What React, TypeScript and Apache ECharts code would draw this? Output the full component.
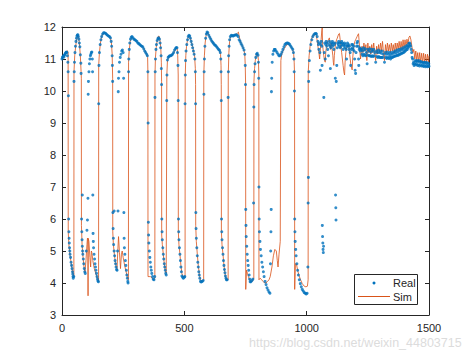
import React, { useEffect, useRef } from "react";
import * as echarts from "echarts";

const seriesNames = ["Real", "Sim"];
const watermark = "https://blog.csdn.net/weixin_44803715";
const xRange = [0, 1500];
const yRange = [3, 12];

const realEarly: [number, number][] = [
  [0,11.0],[2,11.05],[4,11.08],[6,11.1],[8,11.06],[10,11.12],[12,11.15],[14,11.18],[16,11.2],[18,11.22],[20,11.2],[22,11.1],[24,10.9],[25,10.6],[26,9.85],[27,6.0],[28,5.6],[29,5.4],[30,5.25],[31,5.1],[32,5.0],[33,4.9],[35,4.8],[37,4.65],[39,4.55],[41,4.45],[43,4.35],[44,4.28],[45,4.2],[46,4.15],[48,4.2],
  [49,10.3],[50,10.6],[51,10.9],[53,11.2],[55,11.4],[57,11.55],[59,11.65],[61,11.72],[63,11.75],[65,11.76],[67,11.7],[69,11.62],[71,11.5],[73,11.38],[75,11.13],[77,10.87],[78,10.55],[80,6.0],[81,5.6],[82,5.35],[83,5.15],[84,5.0],[85,4.9],[87,4.75],[89,4.6],[91,4.45],[93,4.35],[95,4.3],
  [99,5.0],[102,5.65],[104,5.97],[83,6.75],[106,6.65],[107,9.9],[108,10.3],[110,10.6],[112,10.85],[114,11.0],[116,11.1],[118,11.15],[120,11.2],[122,11.22],[124,11.0],[125,10.6],[126,6.75],[127,5.55],[128,5.3],[129,5.1],[131,4.9],[133,4.75],[135,4.6],[137,4.5],[139,4.4],[141,4.3],[143,4.2],[145,4.12],[147,4.06],[149,4.04],
  [150,9.6],[151,10.8],[153,11.2],[156,11.45],[159,11.6],[162,11.7],[166,11.78],[170,11.82],[174,11.82],[178,11.8],[182,11.77],[186,11.74],[190,11.72],[194,11.7],[198,11.66],[201,11.55],[203,11.4],[205,11.1],[206,10.8],[207,10.3],[208,6.2],[209,5.7],[210,5.4],[211,5.2],[213,5.0],[215,4.85],[217,4.7],[219,4.6],[221,4.5],[223,4.42],[225,4.4],
  [213,6.25],[227,5.0],[229,6.25],[230,9.98],[231,10.4],[233,10.6],[235,10.9],[238,11.05],[241,11.15],[244,11.25],[247,11.28],[250,11.2],[252,10.4],[253,6.2],[254,5.4],[255,5.1],[257,4.9],[259,4.7],[261,4.55],[263,4.4],[265,4.25],[267,4.15],[269,4.05],[270,4.0],
  [272,10.6],[273,11.0],[275,11.3],[277,11.5],[280,11.62],[283,11.68],[286,11.7],[290,11.66],[294,11.62],[298,11.6],[302,11.58],[306,11.55],[310,11.5],[314,11.48],[318,11.45],[322,11.42],[326,11.4],[330,11.38],[334,11.32],[338,11.25],[342,11.2],[346,11.15],[349,11.1],[351,10.6],[352,9.0],[353,5.9],[354,5.5],[355,5.25],[357,5.0],[359,4.8],[361,4.65],[363,4.5],[365,4.4],[367,4.3],[370,4.2],[373,4.12],[376,4.1],[379,4.2],
  [380,9.8],[381,10.6],[382,11.0],[384,11.3],[386,11.45],[389,11.58],[392,11.64],[395,11.66],[398,11.62],[401,11.5],[403,11.35],[405,11.1],[406,10.7],[407,10.2],[408,6.0],[409,5.6],[410,5.35],[412,5.1],[414,4.9],[416,4.75],[418,4.6],[420,4.5],[422,4.4],[424,4.3],[426,4.25],
  [428,9.7],[429,10.5],[431,10.97],[434,11.05],[437,11.08],[440,11.1],[444,11.1],[448,11.12],[452,11.15],[456,11.2],[460,11.28],[464,11.33],[467,11.36],[470,11.35],[472,11.2],[474,10.8],[475,9.7],[476,6.0],[477,5.6],[478,5.35],[480,5.1],[482,4.9],[484,4.7],[486,4.5],[488,4.35],[490,4.22],[493,4.18],[496,4.15],[500,4.18],
];

const realMiddle: [number, number][] = [
  [502,4.2],[503,9.6],[504,10.5],[505,10.95],[507,11.25],[510,11.45],[513,11.6],[516,11.7],[519,11.74],[522,11.72],[525,11.65],[528,11.55],[531,11.45],[534,11.35],[537,11.25],[540,11.15],[543,11.0],[545,10.6],[546,9.6],[547,6.2],[548,5.7],[549,5.4],[551,5.1],[553,4.85],[555,4.65],[557,4.5],[559,4.35],[561,4.25],[563,4.15],[566,4.05],[569,4.03],[573,4.05],[577,4.08],
  [580,9.9],[581,10.6],[582,11.0],[584,11.4],[587,11.65],[590,11.78],[593,11.84],[596,11.82],[600,11.74],[604,11.68],[608,11.62],[612,11.56],[616,11.52],[620,11.48],[624,11.44],[628,11.42],[632,11.38],[636,11.34],[640,11.3],[644,11.27],[647,11.2],[649,11.0],[650,10.6],[651,9.7],[652,6.0],[653,5.6],[654,5.35],[656,5.1],[658,4.9],[660,4.7],[662,4.55],[664,4.42],[666,4.32],[668,4.22],[670,4.15],[672,4.1],[675,4.1],
  [679,9.8],[680,10.6],[681,11.1],[683,11.4],[685,11.6],[688,11.7],[692,11.74],[696,11.73],[700,11.72],[704,11.74],[708,11.75],[712,11.76],[716,11.74],[720,11.7],[724,11.6],[728,11.55],[732,11.48],[736,11.42],[740,11.35],[744,11.28],[747,11.15],[749,10.8],[750,10.2],[751,6.3],[752,5.8],[753,5.45],[755,5.15],[757,4.9],[759,4.7],[761,4.55],[763,4.4],[765,4.25],[767,4.12],[769,4.04],[772,4.04],[776,4.08],[780,4.12],
  [783,6.5],[784,9.5],[785,10.2],[787,10.6],[789,10.85],[792,11.05],[795,11.15],[798,11.18],[801,11.12],[803,10.9],[804,10.4],[805,7.0],[806,6.0],[807,5.6],[809,5.3],[811,5.05],[814,4.85],[817,4.65],[820,4.5],[823,4.35],[826,4.2],[830,4.05],[834,3.95],[838,3.85],[842,3.78],[846,3.72],[850,3.68],
  [852,4.6],[853,5.0],[854,5.6],[855,6.3],[856,9.98],[857,10.4],[859,10.9],[862,11.15],[865,11.25],[868,11.3],[871,11.3],[875,11.25],[879,11.2],[883,11.15],[887,11.1],[891,11.1],[895,11.15],[899,11.22],[903,11.3],[907,11.38],[911,11.45],[915,11.48],[919,11.5],[923,11.5],[927,11.48],[931,11.45],[935,11.4],[939,11.35],[943,11.3],[946,11.2],[948,11.0],[949,10.6],[950,10.0],[951,6.0],[952,5.6],[953,5.3],[955,5.05],[957,4.85],[960,4.6],[963,4.4],[966,4.25],[970,4.1],[974,3.98],[978,3.88],[982,3.8],[986,3.75],[990,3.7],[994,3.68],[998,3.66],[1002,3.68],
  [1005,4.5],[1006,6.5],[1007,7.3],[1008,10.3],[1009,10.6],[1011,10.95],[1014,11.25],[1017,11.45],[1021,11.6],[1025,11.7],[1029,11.76],[1033,11.79],[1037,11.8],[1040,11.78],[1043,11.7],[1046,11.55],
];

const realNoisy: [number, number][] = [
  [1048,11.45],[1050,11.3],[1052,11.5],[1054,11.2],[1056,10.65],[1058,11.45],[1060,11.55],[1062,11.4],[1063,10.8],[1064,5.8],[1065,5.45],[1066,5.25],[1067,5.05],[1068,4.95],[1069,5.15],[1070,9.8],[1072,11.2],[1074,11.5],[1076,11.0],[1078,11.45],[1080,11.55],[1082,11.4],[1084,11.5],[1086,11.3],[1089,11.1],[1091,11.45],[1093,11.55],[1095,11.4],[1097,10.7],[1099,11.35],[1101,11.5],[1103,11.45],[1105,11.55],[1107,11.4],[1109,11.5],[1111,11.3],[1113,11.45],[1115,11.5],[1117,10.4],[1118,6.75],[1119,6.35],[1120,5.97],[1121,10.3],[1123,10.8],[1125,11.35],[1127,11.5],[1129,11.45],[1131,11.55],[1133,11.4],[1135,11.5],[1137,11.35],[1139,11.5],[1141,11.4],[1143,11.55],[1145,11.45],[1147,11.5],[1149,11.3],[1151,11.45],[1153,11.4],[1155,11.5],[1157,11.35],[1159,11.45],[1161,11.3],[1163,11.0],[1165,11.4],[1167,11.5],[1169,11.4],[1171,11.45],[1173,11.3],[1175,11.4],[1178,11.2],[1180,10.8],[1182,11.3],[1184,11.45],[1186,11.35],[1188,11.45],[1190,11.3],[1192,11.4],[1194,11.25],[1196,11.0],[1198,10.65],[1200,10.55],[1202,11.2],[1204,11.4],[1206,11.5],[1208,11.55],[1210,11.4],[1212,11.0],[1213,10.8],[1215,11.3],[1217,11.35],[1219,11.25],[1221,11.32],
];

const realTail: [number, number][] = [
  [1224,11.3],[1226,11.15],[1228,11.25],[1230,11.1],[1232,11.35],[1234,11.15],[1236,11.28],[1238,11.12],[1240,11.32],[1242,11.1],[1244,11.2],[1247,10.85],[1250,11.3],[1252,11.12],[1254,11.25],[1256,11.1],[1258,11.32],[1260,11.1],[1262,11.22],[1264,11.08],[1266,11.3],[1268,11.1],[1270,11.25],[1272,11.08],[1274,11.3],[1276,11.1],[1278,11.2],[1282,10.9],[1285,11.25],[1287,11.08],[1289,11.2],[1291,11.05],[1293,11.28],[1295,11.08],[1297,11.2],[1299,11.05],[1301,11.25],[1303,11.05],[1305,11.18],[1307,11.05],[1309,11.25],[1311,11.05],[1313,11.15],[1318,10.9],[1321,11.2],[1323,11.05],[1325,11.15],[1327,11.02],[1329,11.22],[1331,11.05],[1333,11.15],[1335,11.02],[1337,11.2],[1339,11.05],[1341,11.12],[1343,11.0],[1345,11.2],[1347,11.05],[1349,11.15],[1351,11.05],[1353,11.22],[1355,11.08],[1357,11.18],[1359,11.08],[1361,11.25],[1363,11.1],[1365,11.2],[1367,11.1],[1369,11.28],[1371,11.12],[1373,11.22],[1375,11.12],[1377,11.3],[1379,11.15],[1381,11.25],[1383,11.15],[1385,11.32],[1387,11.18],[1389,11.28],[1391,11.18],[1393,11.35],[1395,11.2],[1397,11.3],[1399,11.22],[1401,11.38],[1403,11.25],[1405,11.35],[1407,11.28],[1409,11.42],[1411,11.3],[1413,11.4],[1415,11.35],[1417,11.48],[1419,11.4],[1421,11.5],[1423,11.45],[1425,11.4],[1427,11.3],[1429,11.2],[1431,11.05],[1433,11.0],[1435,10.85],[1437,10.9],[1439,10.8],[1441,10.85],[1443,10.95],[1445,10.82],[1447,10.92],[1449,10.85],[1451,10.95],[1453,10.8],[1455,10.92],[1457,10.82],[1459,10.95],[1461,10.78],[1463,10.9],[1465,10.82],[1467,10.92],[1469,10.78],[1471,10.9],[1473,10.8],[1475,10.88],[1477,10.77],[1479,10.9],[1481,10.8],[1483,10.88],[1485,10.76],[1487,10.9],[1489,10.79],[1491,10.86],[1493,10.76],[1495,10.88],[1497,10.78],[1499,10.85],[1500,10.77],
];

// Sim (model output): [time, value]
const simEarly: [number, number][] = [
  [0,11.0],[6,11.1],[12,11.15],[18,11.22],[22,11.26],[25,11.2],[25.5,5.6],[28,5.2],[32,4.9],[36,4.7],[40,4.5],[44,4.3],[48.5,4.2],
  [49,10.6],[52,11.1],[56,11.4],[60,11.62],[64,11.74],[67,11.72],[71,11.5],[75,11.1],[78,10.6],[79,10.4],[79.5,5.8],[82,5.2],[86,4.8],[90,4.5],[94,4.35],[98,4.7],[102,5.2],[104,5.4],[106,5.35],[106.5,3.6],[107,5.4],[110,5.3],[114,4.8],[117,4.5],[120,5.0],[122,4.95],[126,4.7],[132,4.45],[138,4.3],[144,4.15],[149.5,4.05],
  [150,10.8],[153,11.2],[157,11.5],[162,11.7],[168,11.8],[174,11.82],[180,11.8],[186,11.76],[192,11.72],[198,11.66],[202,11.5],[205,11.15],[207,10.4],[207.5,5.6],[210,5.2],[214,4.9],[218,4.65],[222,4.5],[225,4.45],[228,5.0],[231,5.45],[235,4.95],[239,4.45],[243,4.9],[246,5.0],[250,4.8],[256,4.55],[262,4.35],[268,4.15],[271.5,4.1],
  [272,10.9],[275,11.3],[279,11.55],[283,11.66],[287,11.68],[292,11.64],[298,11.6],[305,11.55],[312,11.5],[320,11.44],[328,11.4],[334,11.33],[340,11.25],[346,11.15],[350,11.05],[351,10.6],[351.5,4.2],[356,4.2],[362,4.2],[368,4.15],[374,4.1],[379.5,4.15],
  [380,10.5],[382,11.05],[385,11.35],[389,11.58],[393,11.7],[396,11.72],[399,11.65],[402,11.5],[404,11.3],[406,10.9],[407,10.3],[407.5,5.5],[410,5.2],[414,4.9],[418,4.6],[422,4.4],[426,4.3],[428,4.3],
  [428.5,10.5],[431,10.95],[435,11.05],[440,11.1],[446,11.1],[452,11.15],[458,11.22],[464,11.32],[468,11.36],[471,11.32],[473,11.1],[475,10.5],[475.5,5.6],[478,5.2],[482,4.9],[486,4.55],[490,4.3],[495,4.2],[500,4.2],
];

const simMiddle: [number, number][] = [
  [503,4.2],[503.5,10.4],[506,11.1],[509,11.4],[513,11.6],[517,11.7],[520,11.74],[524,11.68],[528,11.56],[533,11.4],[538,11.25],[542,11.1],[545,10.7],[546,10.2],[546.5,5.8],[549,5.3],[553,4.9],[557,4.55],[561,4.3],[565,4.12],[570,4.05],[575,4.05],[579,4.1],
  [579.5,10.5],[582,11.1],[585,11.5],[589,11.74],[593,11.84],[597,11.8],[602,11.72],[608,11.62],[614,11.54],[620,11.48],[626,11.43],[632,11.38],[638,11.32],[644,11.27],[648,11.15],[650,10.8],[651,10.2],[651.5,5.6],[654,5.2],[658,4.9],[662,4.55],[666,4.3],[670,4.15],[675,4.1],[679,4.1],
  [679.5,10.5],[682,11.2],[685,11.55],[689,11.7],[695,11.72],[701,11.72],[707,11.75],[713,11.78],[718,11.82],[721,11.84],[724,11.72],[728,11.58],[733,11.47],[738,11.4],[743,11.3],[747,11.15],[749,10.8],[750.5,10.2],[751,3.8],[754,4.4],[758,4.3],[762,4.2],[767,4.1],[772,4.05],[778,4.05],[784,4.15],
  [784.5,10.3],[787,10.7],[790,10.95],[794,11.12],[797,11.18],[800,11.15],[803,10.95],[804.5,10.5],[805,4.1],[810,4.15],[816,4.1],[822,4.05],[828,4.0],[834,4.0],[840,4.05],[846,4.1],[851,4.2],[858,4.5],[864,4.85],[870,5.05],[876,5.0],[880,4.7],[883,4.5],[887,4.9],[892,5.3],[894,5.3],
  [894.5,10.95],[898,11.15],[903,11.25],[908,11.32],[913,11.38],[918,11.43],[923,11.46],[928,11.45],[933,11.4],[938,11.36],[943,11.3],[947,11.15],[949,10.9],[950.5,10.5],[951,3.8],[954,4.6],[958,4.6],[963,4.4],[968,4.25],[975,4.1],[982,3.98],[990,3.9],[997,3.88],[1003,3.9],[1006,4.1],
  [1006.5,10.6],[1010,11.1],[1014,11.4],[1019,11.6],[1024,11.72],[1029,11.78],[1034,11.8],[1038,11.78],[1042,11.62],
];

const simNoisy: [number, number][] = [
  [1046,11.4],[1050,11.2],[1053,11.0],[1056,11.3],[1059,11.6],[1062,11.9],[1063.5,11.97],[1065,11.5],[1067,11.3],[1070,11.1],[1073,10.95],[1076,10.9],[1078,11.2],[1081,11.4],[1084,11.5],[1087,11.58],[1090,11.62],[1093,11.66],[1095,11.5],[1097,11.3],[1099,11.45],[1101,11.5],[1104,11.3],[1107,11.1],[1109,10.9],[1111,10.8],[1113,11.1],[1116,11.35],[1119,11.5],[1122,11.6],[1125,11.65],[1128,11.72],[1131,11.78],[1134,11.8],[1137,11.6],[1140,11.4],[1143,11.2],[1146,11.0],[1149,10.8],[1152,10.6],[1155,10.5],[1157,10.9],[1160,11.2],[1163,11.35],[1166,11.42],[1169,11.45],[1172,11.45],[1175,11.2],[1178,11.0],[1181,10.8],[1184,10.7],[1186,10.66],[1188,11.0],[1191,11.3],[1194,11.45],[1197,11.55],[1200,11.6],[1203,11.65],[1206,11.7],[1209,11.75],[1212,11.79],[1214,11.6],[1217,11.3],[1220,11.0],
];

const simTail: [number, number][] = [
  [1222,11.0],[1226,11.4],[1230,11.2],[1234,11.5],[1238,11.25],[1242,11.45],[1246,10.95],[1250,11.5],[1254,11.2],[1258,11.4],[1262,11.15],[1266,11.45],[1270,11.2],[1274,11.5],[1278,11.2],[1282,10.95],[1286,11.4],[1290,11.15],[1294,11.45],[1298,11.2],[1302,11.5],[1306,11.25],[1310,11.55],[1314,11.2],[1318,10.95],[1322,11.45],[1326,11.2],[1330,11.5],[1334,11.25],[1338,11.45],[1342,11.2],[1346,11.5],[1350,11.25],[1354,11.45],[1358,11.2],[1362,11.5],[1366,11.25],[1370,11.5],[1374,11.3],[1378,11.55],[1382,11.3],[1386,11.55],[1390,11.3],[1394,11.6],[1398,11.35],[1402,11.6],[1406,11.4],[1410,11.62],[1414,11.45],[1418,11.68],[1422,11.72],[1426,11.6],[1430,11.4],[1434,11.2],[1438,11.3],[1442,11.0],[1446,11.25],[1450,10.95],[1454,11.2],[1458,10.9],[1462,11.2],[1466,10.9],[1470,11.18],[1474,10.88],[1478,11.18],[1482,10.9],[1486,11.15],[1490,10.88],[1494,11.15],[1498,10.9],[1500,11.1],
];

const realData = [...realEarly, ...realMiddle, ...realNoisy, ...realTail];
const simData = [...simEarly, ...simMiddle, ...simNoisy, ...simTail];

const BLUE = "#0072BD";
const ORANGE = "#D95319";
const AXIS = "#262626";
const FONT = "'Liberation Sans', Arial, Helvetica, sans-serif";

export default function App() {
  const ref = useRef<HTMLDivElement>(null);
  useEffect(() => {
    if (!ref.current) return;
    const chart = echarts.init(ref.current, undefined, { renderer: "svg" });
    const axisLine = { show: true, onZero: false, lineStyle: { color: AXIS, width: 1 } };
    const axisTick = { show: true, inside: true, length: 4, lineStyle: { color: AXIS, width: 1 } };
    const label = { color: AXIS, fontSize: 11, fontFamily: FONT };
    chart.setOption({
      animation: false,
      backgroundColor: "#ffffff",
      grid: { left: 62, right: 45, top: 27, bottom: 40, containLabel: false },
      xAxis: [
        { type: "value", min: xRange[0], max: xRange[1], interval: 500, position: "bottom", axisLine, axisTick, axisLabel: { ...label, margin: 7, formatter: (v: number) => String(v) }, splitLine: { show: false } },
        { type: "value", min: xRange[0], max: xRange[1], interval: 500, position: "top", axisLine, axisTick, axisLabel: { show: false }, splitLine: { show: false } },
      ],
      yAxis: [
        { type: "value", min: yRange[0], max: yRange[1], interval: 1, position: "left", axisLine, axisTick, axisLabel: { ...label, margin: 6 }, splitLine: { show: false } },
        { type: "value", min: yRange[0], max: yRange[1], interval: 1, position: "right", axisLine, axisTick, axisLabel: { show: false }, splitLine: { show: false } },
      ],
      series: [
        {
          name: seriesNames[1], type: "line", data: simData, showSymbol: false, symbol: "none",
          lineStyle: { color: ORANGE, width: 1, opacity: 0.8 }, itemStyle: { color: ORANGE }, z: 2, silent: true,
        },
        {
          name: seriesNames[0], type: "scatter", data: realData, symbolSize: 3,
          itemStyle: { color: BLUE }, z: 3, silent: true,
        },
      ],
      graphic: [
        { type: "rect", shape: { x: 354.5, y: 274.5, width: 63, height: 30 }, style: { fill: "#ffffff", stroke: AXIS, lineWidth: 1 }, z: 100 },
        { type: "circle", shape: { cx: 374, cy: 283, r: 1.5 }, style: { fill: BLUE }, z: 101 },
        { type: "line", shape: { x1: 358, y1: 296.5, x2: 390, y2: 296.5 }, style: { stroke: ORANGE, lineWidth: 1 }, z: 101 },
        { type: "text", x: 393, y: 283, style: { text: seriesNames[0], fill: AXIS, font: `11px ${FONT}`, verticalAlign: "middle", align: "left" }, z: 101 },
        { type: "text", x: 393, y: 296.5, style: { text: seriesNames[1], fill: AXIS, font: `11px ${FONT}`, verticalAlign: "middle", align: "left" }, z: 101 },
        { type: "text", x: 249, y: 343, style: { text: watermark, fill: "#dcdcdc", font: `12.5px ${FONT}`, verticalAlign: "middle", align: "left" }, z: 101 },
      ],
    });
    return () => chart.dispose();
  }, []);
  return <div ref={ref} style={{ position: "absolute", left: 0, top: 0, width: 474, height: 355 }} />;
}
